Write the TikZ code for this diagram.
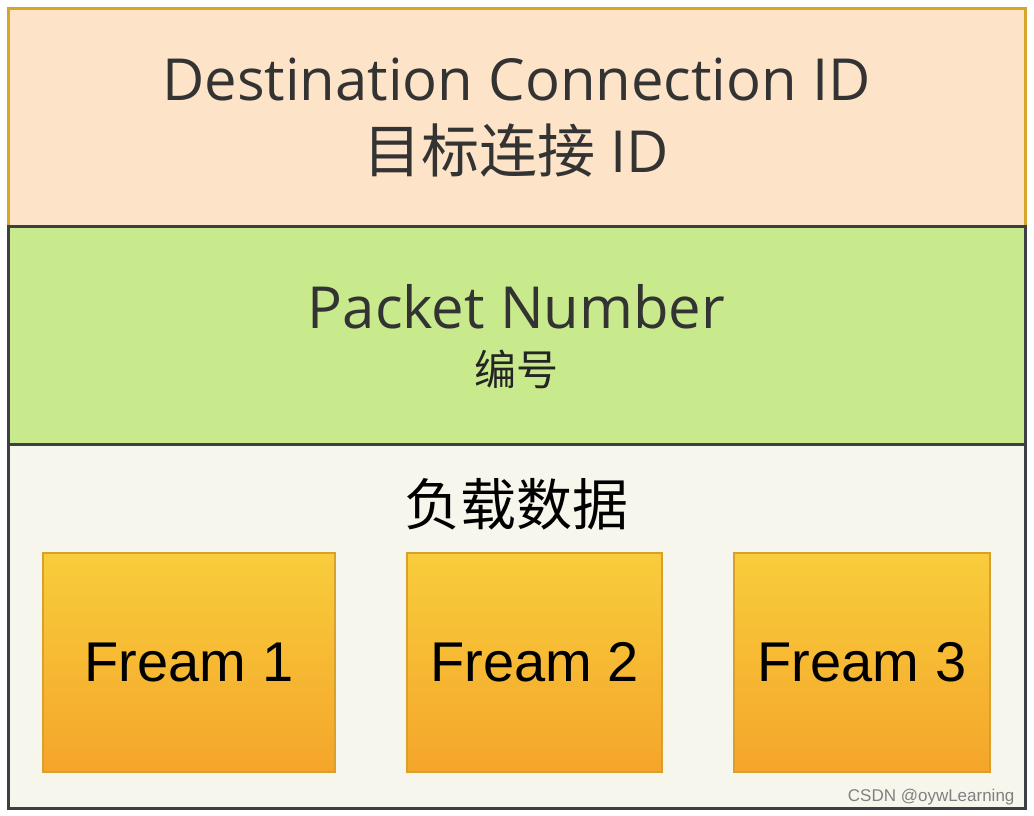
\documentclass[tikz,border=0pt]{standalone}
\usepackage{fontspec}
\setmainfont{Open Sans}
\newfontfamily\cjk{Noto Sans CJK SC}
\newfontfamily\frm{Liberation Sans}
\usetikzlibrary{positioning}

\definecolor{peach}{HTML}{FDE4C8}
\definecolor{gold}{HTML}{D6A52A}
\definecolor{lime}{HTML}{C8EA8C}
\definecolor{cream}{HTML}{F7F6EC}
\definecolor{slate}{HTML}{3C3F44}
\definecolor{ink}{HTML}{333333}
\definecolor{frametop}{HTML}{F8CD3C}
\definecolor{framebot}{HTML}{F5A52A}
\definecolor{frameline}{HTML}{D9A12B}

\tikzset{
  layer/.style={draw=slate, line width=3pt, inner sep=0pt, minimum width=1017pt},
  framebox/.style={draw=frameline, line width=2.5pt, inner sep=0pt, minimum height=219pt,
    top color=frametop, bottom color=framebot, font=\frm\fontsize{56}{60}\selectfont}
}

\begin{document}
\begin{tikzpicture}[x=1pt, y=-1pt]
        \useasboundingbox (0,0) rectangle (1034,815);
        \fill[white] (0,0) rectangle (1034,815);

        % Header
        \node[layer, draw=gold, fill=peach, minimum height=218pt] (dcid) at (516.5,117) {};
        \node[text=ink, align=center, font=\fontsize{58}{72}\selectfont] (dcidtext) at (516.5,118)
          {Destination Connection ID\\
           {\cjk 目标连接} ID};

        % Packet number
        \node[layer, fill=lime, minimum height=218pt] (pnum) at (516.5,335) {};
        \node[text=ink] (pnumtext) at (516.5,307) {\fontsize{58}{60}\selectfont Packet Number};
        \node[text=ink!70!black] (pnumcn) at (516.5,369) {\cjk\fontsize{42}{48}\selectfont 编号};

        % Payload
        \node[layer, fill=cream, minimum height=364pt] (payload) at (516.5,626) {};
        \node (payloadtext) at (516.5,504) {\cjk\fontsize{56}{60}\selectfont 负载数据};

        % Frames
        \node[framebox, minimum width=292pt] (fream1) at (189,662.5) {Fream 1};
        \node[framebox, minimum width=255pt] (fream2) at (534.5,662.5) {Fream 2};
        \node[framebox, minimum width=256pt] (fream3) at (862,662.5) {Fream 3};

        % Watermark
        \node[anchor=east, text=gray, font=\frm\fontsize{17}{20}\selectfont] (mark) at (1018,797) {CSDN @oywLearning};

\end{tikzpicture}
\end{document}
